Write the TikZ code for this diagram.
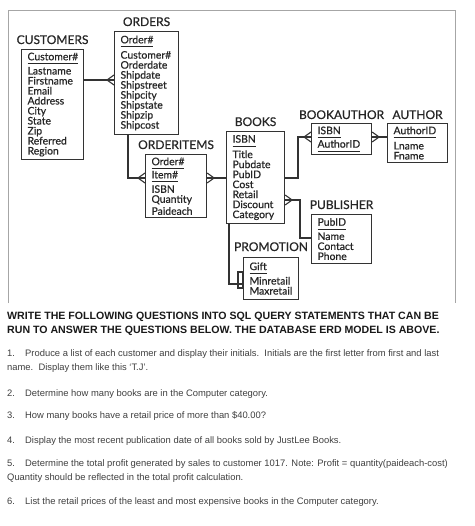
\documentclass[tikz,border=0pt]{standalone}
\usepackage{fontspec}
\setmainfont{Liberation Sans}
\newfontfamily\erdfont{Lato}[FakeBold=0.6]
\usetikzlibrary{positioning,calc}
\newcommand{\pk}[1]{\underline{#1\vphantom{y}}}
\newcommand{\qnum}[1]{\makebox[18pt][l]{#1}}

\begin{document}
\begin{tikzpicture}[x=1pt,y=-1pt,
  ent/.style={draw=black!80,line width=1.1pt,align=left,anchor=north west,
    inner xsep=6pt,inner ysep=3pt,text=black!85,
    font=\erdfont\fontsize{10.4}{10}\selectfont},
  ttl/.style={inner sep=0pt,text=black!85,font=\erdfont\fontsize{12}{12}\selectfont},
  ln/.style={draw=black!80,line width=1.1pt},
  crow/.pic={\draw[black!80,line width=1.1pt] (0,-5) -- (-7,0) -- (0,5);},
  qhead/.style={anchor=base west,inner sep=0pt,text=black!90,
    font=\bfseries\fontsize{10.6}{12}\selectfont},
  qtxt/.style={anchor=base west,inner sep=0pt,text=black!75,
    font=\fontsize{9.4}{11}\selectfont}]
\fill[white] (0,0) rectangle (474,526);
\useasboundingbox (0,0) rectangle (474,526);
% frame round the model
\draw[gray!70,line width=0.8pt] (8,303) |- (455,10) -- (455,303);

% entities
\node[ent,text width=50pt,minimum height=110pt] (customers) at (21,49)
  {\pk{Customer\#}\\[2pt] Lastname\\ Firstname\\ Email\\ Address\\ City\\ State\\ Zip\\ Referred\\ Region};
\node[ent,text width=52pt,minimum height=103pt] (orders) at (114,31)
  {\pk{Order\#}\\[3pt] Customer\#\\ Orderdate\\ Shipdate\\ Shipstreet\\ Shipcity\\ Shipstate\\ Shipzip\\ Shipcost};
\node[ent,text width=49pt,minimum height=60pt] (orderitems) at (145,154)
  {\pk{Order\#}\\[1pt] \pk{Item\#}\\[2pt] ISBN\\ Quantity\\[2pt] Paideach};
\node[ent,text width=46pt,minimum height=92pt] (books) at (226,131)
  {\pk{ISBN}\\[3pt] Title\\ Pubdate\\ PubID\\ Cost\\ Retail\\ Discount\\ Category};
\node[ent,text width=48pt,minimum height=31pt] (bookauthor) at (311,123)
  {\pk{ISBN}\\[1pt] \pk{AuthorID}};
\node[ent,text width=48pt,minimum height=39pt] (author) at (387,123)
  {\pk{AuthorID}\\[3pt] Lname\\ Fname};
\node[ent,text width=48pt,minimum height=49pt] (publisher) at (311,214)
  {\pk{PubID}\\[2pt] Name\\ Contact\\ Phone};
\node[ent,text width=43pt,minimum height=42pt] (promotion) at (243,257)
  {\pk{Gift}\\[2pt] Minretail\\ Maxretail};

% titles
\node[ttl,above=5pt of customers.north,anchor=base] (customers-t) {CUSTOMERS};
\node[ttl,above=5pt of orders.north,anchor=base] (orders-t) {ORDERS};
\node[ttl,above=5pt of orderitems.north,anchor=base] (orderitems-t) {ORDERITEMS};
\node[ttl,above=5pt of books.north,anchor=base] (books-t) {BOOKS};
\node[ttl,above=4pt of bookauthor.north,anchor=base] (bookauthor-t) {BOOKAUTHOR};
\node[ttl,above=4pt of author.north,anchor=base] (author-t) {AUTHOR};
\node[ttl,above=5pt of publisher.north,anchor=base] (publisher-t) {PUBLISHER};
\node[ttl,above=6pt of promotion.north,anchor=base] (promotion-t) {PROMOTION};

% relationships
\draw[ln] (customers.east |- 0,80) -- (orders.west |- 0,80);
\pic at (orders.west |- 0,80) {crow};
\draw[ln] (orders.south -| 128,0) |- (orderitems.west |- 0,178);
\pic at (orderitems.west |- 0,178) {crow};
\draw[ln] (orderitems.east |- 0,178) -- (books.west |- 0,178);
\pic[rotate=180] at (orderitems.east |- 0,178) {crow};
\draw[ln] (books.east |- 0,178) -| (298,137) -- (bookauthor.west |- 0,137);
\pic at (bookauthor.west |- 0,137) {crow};
\draw[ln] (bookauthor.east |- 0,137) -- (author.west |- 0,137);
\pic[rotate=180] at (bookauthor.east |- 0,137) {crow};
\draw[ln] (books.east |- 0,200) -| (300,238) -- (publisher.west |- 0,238);
\pic[rotate=180] at (books.east |- 0,200) {crow};
\draw[ln] (books.south -| 229,0) |- (promotion.west |- 0,284);
\draw[ln] (promotion.west |- 0,272) rectangle ++(-5,16);

% questions
\node[qhead] (head1) at (7,319) {WRITE THE FOLLOWING QUESTIONS INTO SQL QUERY STATEMENTS THAT CAN BE};
\node[qhead] (head2) at (7,333) {RUN TO ANSWER THE QUESTIONS BELOW. THE DATABASE ERD MODEL IS ABOVE.};
\node[qtxt] (q1a) at (7,356) {\qnum{1.}Produce a list of each customer and display their initials.\ \ Initials are the first letter from first and last};
\node[qtxt] (q1b) at (7,370) {name.\ \ Display them like this `T.J'.};
\node[qtxt] (q2) at (7,396) {\qnum{2.}Determine how many books are in the Computer category.};
\node[qtxt] (q3) at (7,418) {\qnum{3.}How many books have a retail price of more than \$40.00?};
\node[qtxt] (q4) at (7,443) {\qnum{4.}Display the most recent publication date of all books sold by JustLee Books.};
\node[qtxt] (q5a) at (7,466) {\qnum{5.}Determine the total profit generated by sales to customer 1017. Note: Profit = quantity(paideach-cost)};
\node[qtxt] (q5b) at (7,480) {Quantity should be reflected in the total profit calculation.};
\node[qtxt] (q6) at (7,504) {\qnum{6.}List the retail prices of the least and most expensive books in the Computer category.};
\end{tikzpicture}
\end{document}
